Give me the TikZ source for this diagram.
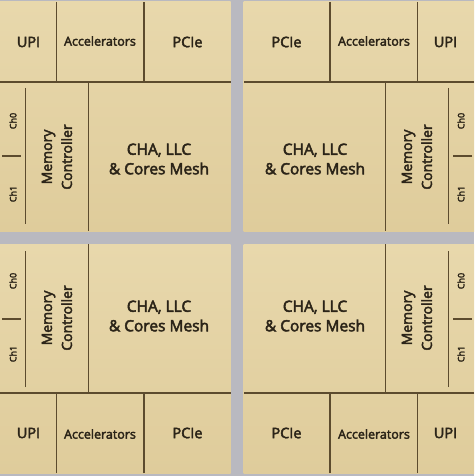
\documentclass[tikz,border=0pt]{standalone}
\usepackage{fontspec}
\setmainfont{Open Sans}[FakeBold=3]

\definecolor{dietile}{HTML}{DFCC9B}
\definecolor{dietilehi}{HTML}{E8D8AC}
\definecolor{dieline}{HTML}{5C4B2E}
\definecolor{diegap}{HTML}{B9B9C0}
\definecolor{dietext}{HTML}{2B2418}

\tikzset{
  divider/.style={draw=dieline, line width=1.6pt},
  blocklabel/.style={text=dietext, inner sep=0pt, font=\fontsize{14.5}{16}\selectfont},
  smalllabel/.style={blocklabel, font=\fontsize{12.5}{14}\selectfont},
  meshlabel/.style={blocklabel, align=center, font=\fontsize{15.5}{19.5}\selectfont},
  memlabel/.style={blocklabel, align=center, rotate=90, font=\fontsize{14}{20}\selectfont},
  chlabel/.style={blocklabel, rotate=90, font=\fontsize{9}{10}\selectfont},
}

\begin{document}
\begin{tikzpicture}[x=1pt, y=-1pt]
    \def\w{230.5}  % width of one tile
    \def\h{231}    % bottom edge of one tile
    \def\row{82}   % bottom edge of the I/O row
    \def\mc{88.5}  % right edge of the memory controller

    % Background between the tiles
    \fill[diegap] (0,0) rectangle (474,476);
    \useasboundingbox (0,0) rectangle (474,476);

    % One tile per quadrant, mirrored
    \foreach \nm/\sx/\sy/\ox/\oy/\cha/\chb in {%
        tl/1/1/0/0/Ch0/Ch1, tr/-1/1/474/0/Ch0/Ch1,
        bl/1/-1/0/475/Ch1/Ch0, br/-1/-1/474/475/Ch1/Ch0}{
      \begin{scope}[shift={(\ox,\oy)}, xscale=\sx, yscale=\sy]
        % Die tile
        \shade[top color=dietilehi, bottom color=dietile] (0,2) rectangle (\w,\h);

        % Draw the dividers
        \draw[divider] (0,\row) -- (\w,\row);
        \draw[divider] (56.5,2) -- (56.5,\row);
        \draw[divider] (144,2) -- (144,\row);
        \draw[divider] (\mc,\row) -- (\mc,\h);

        % Draw memory channels
        \draw[divider] (25.5,88) -- (25.5,224);
        \draw[divider] (2,156) -- (21,156);

        % Block names
        \node[blocklabel] (\nm-upi) at (28.5,42) {UPI};
        \node[smalllabel] (\nm-acc) at (100,41) {Accelerators};
        \node[blocklabel] (\nm-pcie) at (187.5,42) {PCIe};
        \node[memlabel] (\nm-mem) at (57,157) {Memory\\Controller};
        \node[meshlabel] (\nm-mesh) at (159,159) {CHA, LLC\\\& Cores Mesh};
        \node[chlabel] (\nm-cha) at (13,121) {\cha};
        \node[chlabel] (\nm-chb) at (13,194) {\chb};
      \end{scope}
    }
\end{tikzpicture}
\end{document}
